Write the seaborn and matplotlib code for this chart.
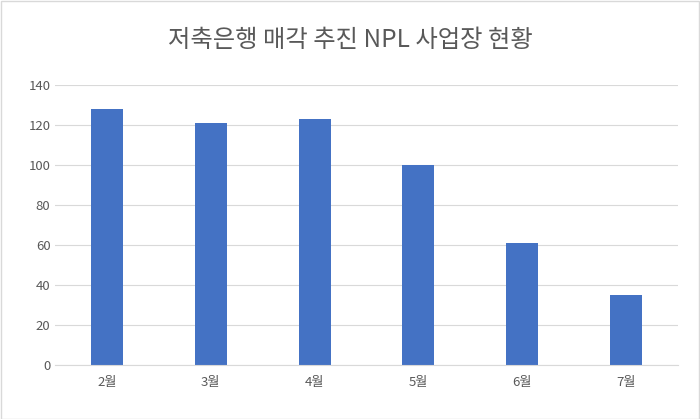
import matplotlib
matplotlib.use("Agg")
import matplotlib.pyplot as plt
import seaborn as sns
import pandas as pd

months = ["2월", "3월", "4월", "5월", "6월", "7월"]
counts = [128, 121, 123, 100, 61, 35]
title = "저축은행 매각 추진 NPL 사업장 현황"

plt.rcParams["font.family"] = "Noto Sans CJK KR"
df = pd.DataFrame({"month": months, "count": counts})

fig = plt.figure(figsize=(7, 4.19), dpi=100)
ax = fig.add_axes([0.079, 0.129, 0.889, 0.668])
sns.barplot(data=df, x="month", y="count", color="#4472C4", width=0.31,
            saturation=1, ax=ax)
ax.set_ylim(0, 140)
ax.set_yticks(range(0, 141, 20))
ax.grid(axis="y", color="#D9D9D9", linewidth=0.8)
ax.set_axisbelow(True)
for s in ["top", "right", "left"]:
    ax.spines[s].set_visible(False)
ax.spines["bottom"].set_color("#D9D9D9")
ax.tick_params(length=0, colors="#595959", labelsize=9.5)
ax.tick_params(axis="x", pad=8)
ax.set_xlabel("")
ax.set_ylabel("")
fig.text(0.5, 0.905, title, ha="center", va="center", fontsize=17.5, color="#595959")
fig.patches.append(plt.Rectangle((0.001, 0.001), 0.997, 0.997, transform=fig.transFigure,
                                 fill=False, edgecolor="#D9D9D9", linewidth=1))
fig.savefig("out.png", dpi=100)
